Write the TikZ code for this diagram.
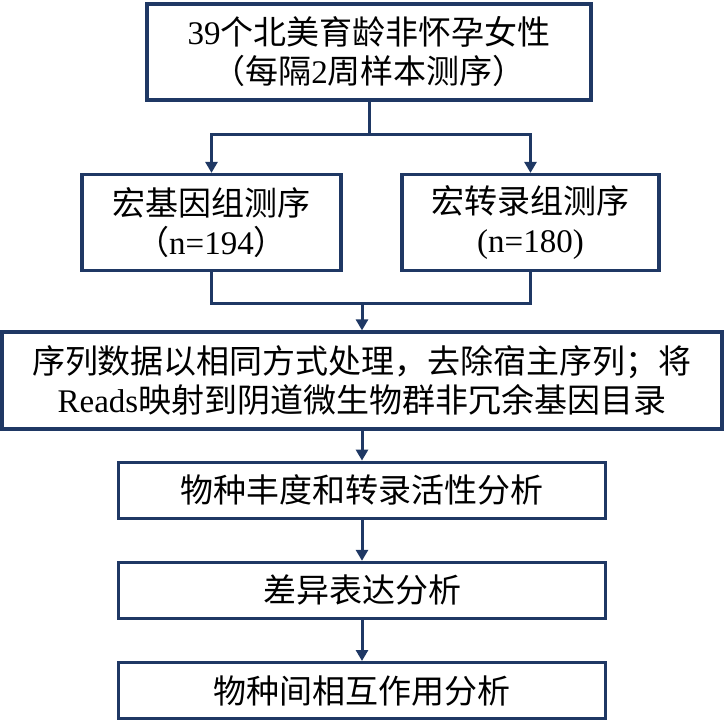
\documentclass[tikz,border=0pt]{standalone}
\usepackage{fontspec}
\setmainfont{Liberation Serif}
\newfontfamily\cjk{Noto Sans CJK SC}
\usepackage{xcolor}
\usetikzlibrary{arrows.meta,positioning,calc}
\definecolor{navy}{HTML}{1F3864}
\newcommand{\zh}[1]{{\cjk #1}}

\begin{document}
\begin{tikzpicture}[x=1pt,y=1pt,
  box/.style={draw=navy,line width=3.2pt,fill=white,minimum width=#1,minimum height=96pt,
    inner sep=0pt,align=center,font=\fontsize{33}{39}\selectfont},
  box/.default=260pt,
  smallbox/.style={box=487pt,minimum height=56pt},
  arr/.style={draw=navy,line width=3pt,-{Triangle[length=11pt,width=12pt]}},
  lnk/.style={draw=navy,line width=3pt}]
\useasboundingbox (0,0) rectangle (724,-720);
\node[box=444pt] (women) at (369,-52) {39\zh{个北美育龄非怀孕女性}\\\zh{（每隔}2\zh{周样本测序）}};
\node[box=259pt] (metag) at (211.5,-222.5) {\zh{宏基因组测序}\\\zh{（}n=194\zh{）}};
\node[box=257pt] (metat) at (530.5,-222.5) {\zh{宏转录组测序}\\(n=180)};
\node[box=720pt,minimum height=97pt] (proc) at (362,-380.5) {\zh{序列数据以相同方式处理，去除宿主序列；将}\\Reads\zh{映射到阴道微生物群非冗余基因目录}};
\node[smallbox,below=30pt of proc] (abund) {\zh{物种丰度和转录活性分析}};
\node[smallbox,below=41pt of abund] (diff) {\zh{差异表达分析}};
\node[smallbox,below=41pt of diff] (inter) {\zh{物种间相互作用分析}};
\coordinate (split) at ($(women.south)+(0,-33)$);
\coordinate (merge) at ($(proc.north)+(0,27)$);
\draw[lnk] (women.south) -- (split);
\draw[arr] (split) -| (metag.north);
\draw[arr] (split) -| (metat.north);
\draw[lnk] (metag.south) |- (merge);
\draw[lnk] (metat.south) |- (merge);
\draw[arr] (merge) -- (proc.north);
\draw[arr] (proc) -- (abund);
\draw[arr] (abund) -- (diff);
\draw[arr] (diff) -- (inter);
\end{tikzpicture}
\end{document}
